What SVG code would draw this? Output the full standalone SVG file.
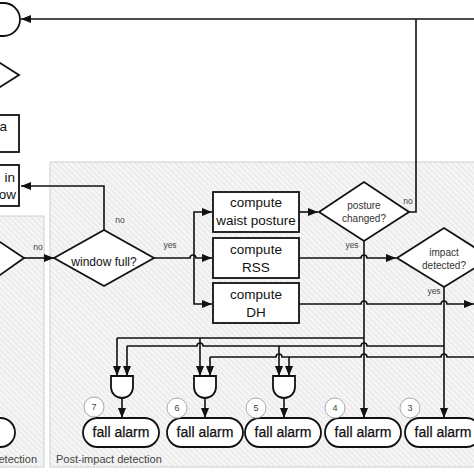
<svg xmlns="http://www.w3.org/2000/svg" width="474" height="474" viewBox="0 0 474 474">
<style>
.ln{fill:none;stroke:#111;stroke-width:1.6}
.arr{fill:none;stroke:#111;stroke-width:1.6;marker-end:url(#ah)}
.box{fill:#fff;stroke:#111;stroke-width:1.8}
.t{font-family:"Liberation Sans",Arial,sans-serif;fill:#111;text-anchor:middle}
.bt{font-size:13.5px}
.dt{font-size:10px;fill:#333}
.lb{font-family:"Liberation Sans",Arial,sans-serif;font-size:8.5px;fill:#444;text-anchor:middle}
.al{font-size:14px;stroke:#111;stroke-width:0.25}
.num{fill:#fff;stroke:#aaa;stroke-width:1}
.nt{font-family:"Liberation Sans",Arial,sans-serif;font-size:9px;fill:#444;text-anchor:middle}
.reg{fill:url(#hatch);stroke:#cfcfcf;stroke-width:1}
.rl{font-family:"Liberation Sans",Arial,sans-serif;font-size:11px;fill:#444}
</style>
<defs>
<pattern id="hatch" patternUnits="userSpaceOnUse" width="4" height="4" patternTransform="rotate(-45)">
<rect width="4" height="4" fill="#f5f5f5"/>
<line x1="0" y1="0" x2="0" y2="4" stroke="#dcdcdc" stroke-width="1.2"/>
</pattern>
<marker id="ah" markerUnits="userSpaceOnUse" markerWidth="10" markerHeight="10" viewBox="0 0 10 10" refX="10" refY="5" orient="auto">
<path d="M0,1 L10,5 L0,9 Z" fill="#111"/>
</marker>
</defs>
<rect width="474" height="474" fill="#fff"/>

<g id="regions">
<rect class="reg" x="-10" y="216" width="54" height="251"/>
<text class="rl" x="37" y="463" text-anchor="end">etection</text>
<rect class="reg" x="50" y="162" width="434" height="305"/>
<text class="rl" x="56" y="463">Post-impact detection</text>
</g>

<g id="connectors">
<path class="arr" d="M474,19 H21"/>
<path class="ln" d="M409,212 H416 V19"/>
<path class="arr" d="M104,230 V186 H21"/>
<path class="arr" d="M24,258 H54"/>
<path class="arr" d="M154,258 H190 A3,3 0 0 1 196,258 H212"/>
<path class="arr" d="M194,258 V212 H212"/>
<path class="arr" d="M194,258 V304 H212"/>
<path class="arr" d="M299,212 H318"/>
<path class="arr" d="M299,258 H361 A3,3 0 0 1 367,258 H396"/>
<path class="arr" d="M299,304 H361 A3,3 0 0 1 367,304 H441 A3,3 0 0 1 447,304 H474"/>
<path class="arr" d="M364,241 V418"/>
<path class="arr" d="M444,287 V418"/>
<path class="ln" d="M364,338 H117"/>
<path class="arr" d="M117,338 V376"/>
<path class="arr" d="M200,338 V376"/>
<path class="ln" d="M444,346 H367 A3,3 0 0 0 361,346 H203 A3,3 0 0 0 197,346 H127"/>
<path class="arr" d="M127,346 V376"/>
<path class="arr" d="M279,346 V376"/>
<path class="ln" d="M474,357 H447 A3,3 0 0 0 441,357 H367 A3,3 0 0 0 361,357 H282 A3,3 0 0 0 276,357 H210"/>
<path class="arr" d="M210,357 V376"/>
<path class="arr" d="M289,357 V376"/>
<path class="arr" d="M122,398 V418"/>
<path class="arr" d="M205,398 V418"/>
<path class="arr" d="M284,398 V418"/>
<text class="lb" x="38" y="250">no</text>
<text class="lb" x="120" y="223">no</text>
<text class="lb" x="170" y="248">yes</text>
<text class="lb" x="408" y="204">no</text>
<text class="lb" x="352" y="248">yes</text>
<text class="lb" x="434" y="294">yes</text>
</g>

<g id="start"><rect class="box" x="-60" y="3" width="80" height="33" rx="16.5"/></g>
<g id="decision-top"><path class="box" d="M-40,75 L0,63 L19,75 L0,87 Z"/></g>
<g id="data-box"><rect class="box" x="-40" y="115" width="59" height="37"/><text class="t bt" x="7" y="131" style="text-anchor:end">a</text></g>
<g id="window-box"><rect class="box" x="-40" y="165" width="59" height="41"/>
<text class="t bt" x="15" y="182" style="text-anchor:end">in</text>
<text class="t bt" x="16" y="199" style="text-anchor:end">ow</text></g>
<g id="left-decision"><path class="box" d="M-30,258 L0,242 L24,258 L0,275 Z"/></g>
<g id="left-alarm"><rect class="box" x="-60" y="418" width="75" height="29" rx="14.5"/></g>

<g id="window-full"><path class="box" d="M54,258 L104,230 L154,258 L104,286 Z"/><text class="t" x="104" y="266" font-size="12" fill="#333">window full?</text></g>

<g id="waist"><rect class="box" x="213" y="192" width="86" height="40"/><text class="t bt" x="256" y="207">compute</text><text class="t bt" x="256" y="225">waist posture</text></g>
<g id="rss"><rect class="box" x="213" y="238" width="86" height="40"/><text class="t bt" x="256" y="254">compute</text><text class="t bt" x="256" y="272">RSS</text></g>
<g id="dh"><rect class="box" x="213" y="283" width="86" height="40"/><text class="t bt" x="256" y="299">compute</text><text class="t bt" x="256" y="317">DH</text></g>

<g id="posture"><path class="box" d="M319,212 L364,182 L409,212 L364,241 Z"/><text class="t dt" x="364" y="209">posture</text><text class="t dt" x="364" y="222">changed?</text></g>
<g id="impact"><path class="box" d="M397,258 L444,228 L491,258 L444,287 Z"/><text class="t dt" x="444" y="256">impact</text><text class="t dt" x="444" y="269">detected?</text></g>

<g id="gate7"><path class="box" d="M111,376 H133 V387 A11,11 0 0 1 111,387 Z"/></g>
<g id="gate6"><path class="box" d="M194,376 H216 V387 A11,11 0 0 1 194,387 Z"/></g>
<g id="gate5"><path class="box" d="M273,376 H295 V387 A11,11 0 0 1 273,387 Z"/></g>

<g id="alarm7"><rect class="box" x="83" y="418" width="76" height="29" rx="14.5"/><text class="t al" x="121" y="437">fall alarm</text><circle class="num" cx="94" cy="407" r="10"/><text class="nt" x="94" y="410">7</text></g>
<g id="alarm6"><rect class="box" x="167" y="418" width="76" height="29" rx="14.5"/><text class="t al" x="205" y="437">fall alarm</text><circle class="num" cx="177" cy="408" r="10"/><text class="nt" x="177" y="411">6</text></g>
<g id="alarm5"><rect class="box" x="245" y="418" width="76" height="29" rx="14.5"/><text class="t al" x="283" y="437">fall alarm</text><circle class="num" cx="256" cy="408" r="10"/><text class="nt" x="256" y="411">5</text></g>
<g id="alarm4"><rect class="box" x="325" y="418" width="76" height="29" rx="14.5"/><text class="t al" x="363" y="437">fall alarm</text><circle class="num" cx="335" cy="408" r="10"/><text class="nt" x="335" y="411">4</text></g>
<g id="alarm3"><rect class="box" x="405" y="418" width="76" height="29" rx="14.5"/><text class="t al" x="443" y="437">fall alarm</text><circle class="num" cx="410" cy="408" r="10"/><text class="nt" x="410" y="411">3</text></g>
</svg>
